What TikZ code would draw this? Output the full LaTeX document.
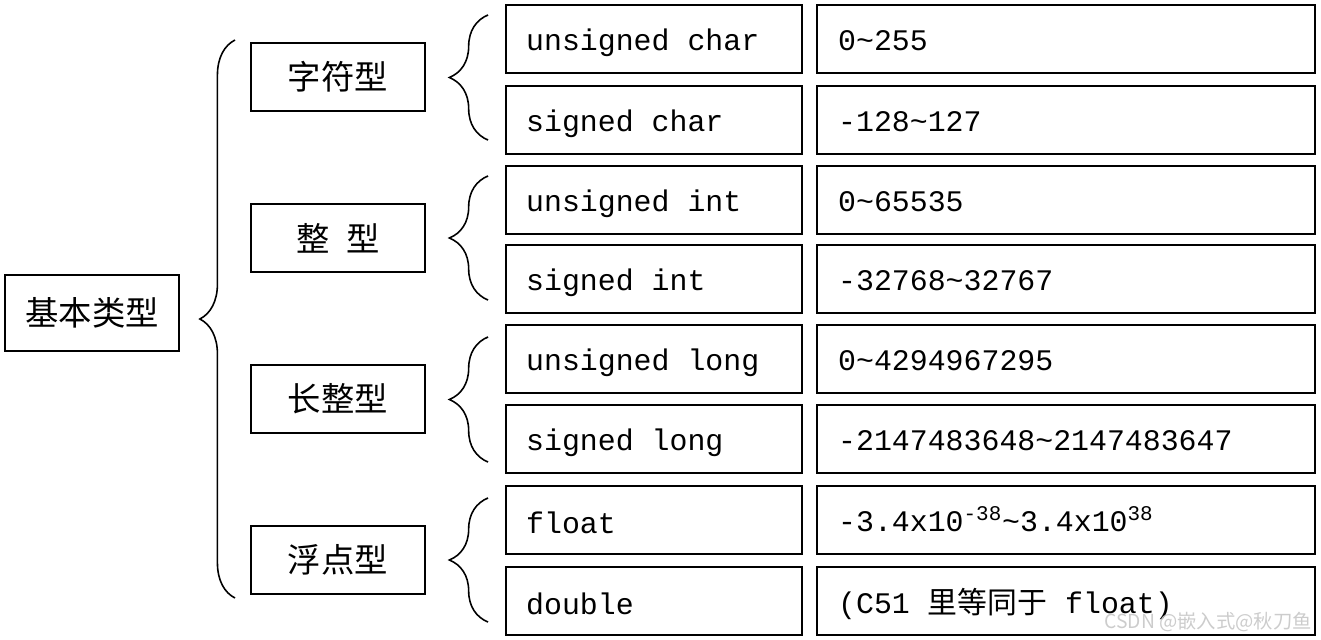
\documentclass[tikz,border=0pt]{standalone}
\usepackage{fontspec}
\setmonofont{Liberation Mono}
\newfontfamily\cjk{Noto Sans CJK SC}
\usetikzlibrary{decorations.pathreplacing, positioning}
\newcommand{\tld}{\string~}

\begin{document}
\begin{tikzpicture}[x=0.02cm, y=-0.02cm,
    % Styles
    typebox/.style={rectangle, draw, line width=1.2pt, minimum width=3.48cm, minimum height=1.36cm, font=\cjk\fontsize{19}{19}\selectfont},
    namebox/.style={rectangle, draw, line width=1.2pt, minimum width=5.92cm, minimum height=1.36cm},
    rangebox/.style={rectangle, draw, line width=1.2pt, minimum width=9.96cm, minimum height=1.36cm},
    code/.style={anchor=west, font=\ttfamily\fontsize{17}{17}\selectfont},
    curly/.style={decorate, decoration={brace, amplitude=22pt}, line width=0.9pt}
]
\useasboundingbox (0,0) rectangle (1321,639);

% --- Root ---
\node[typebox, minimum width=3.48cm, minimum height=1.52cm] (basic) at (92,313) {基本类型};

% --- Groups ---
\node[typebox] (char_t) at (338,77) {字符型};
\node[typebox] (int_t) at (338,238) {整\hspace{0.5em}型};
\node[typebox] (long_t) at (338,399) {长整型};
\node[typebox] (float_t) at (338,560) {浮点型};

% --- Name column ---
\node[namebox] (uchar) at (654,39) {};
\node[namebox] (schar) at (654,120) {};
\node[namebox] (uint) at (654,200) {};
\node[namebox] (sint) at (654,279) {};
\node[namebox] (ulong) at (654,359) {};
\node[namebox] (slong) at (654,439) {};
\node[namebox] (flt) at (654,520) {};
\node[namebox] (dbl) at (654,601) {};

\node[code] (uchar_txt) at (520,43) {unsigned char};
\node[code] (schar_txt) at (520,124) {signed char};
\node[code] (uint_txt) at (520,204) {unsigned int};
\node[code] (sint_txt) at (520,283) {signed int};
\node[code] (ulong_txt) at (520,363) {unsigned long};
\node[code] (slong_txt) at (520,443) {signed long};
\node[code] (flt_txt) at (520,523) {float};
\node[code] (dbl_txt) at (520,604) {double};

% --- Range column ---
\node[rangebox] (r_uchar) at (1066,39) {};
\node[rangebox] (r_schar) at (1066,120) {};
\node[rangebox] (r_uint) at (1066,200) {};
\node[rangebox] (r_sint) at (1066,279) {};
\node[rangebox] (r_ulong) at (1066,359) {};
\node[rangebox] (r_slong) at (1066,439) {};
\node[rangebox] (r_flt) at (1066,520) {};
\node[rangebox] (r_dbl) at (1066,601) {};

\node[code] (r_uchar_txt) at (832,41) {0\tld255};
\node[code] (r_schar_txt) at (832,122) {-128\tld127};
\node[code] (r_uint_txt) at (832,202) {0\tld65535};
\node[code] (r_sint_txt) at (832,281) {-32768\tld32767};
\node[code] (r_ulong_txt) at (832,361) {0\tld4294967295};
\node[code] (r_slong_txt) at (832,441) {-2147483648\tld2147483647};
\node[code] (r_flt_txt) at (832,519) {-3.4x10\textsuperscript{-38}\tld3.4x10\textsuperscript{38}};
\node[code] (r_dbl_txt) at (832,604) {(C51 {\cjk 里等同于} float)};

% --- Braces ---
\draw[curly, decoration={amplitude=20pt}] (235,598) -- (235,40);
\draw[curly] (488,140) -- (488,15);
\draw[curly] (488,300) -- (488,176);
\draw[curly] (488,462) -- (488,337);
\draw[curly] (488,622) -- (488,498);

% watermark
\node[anchor=east, font=\cjk\fontsize{11}{11}\selectfont, text=gray!40!white] (mark) at (1318,622) {CSDN @嵌入式@秋刀鱼};
\end{tikzpicture}
\end{document}
